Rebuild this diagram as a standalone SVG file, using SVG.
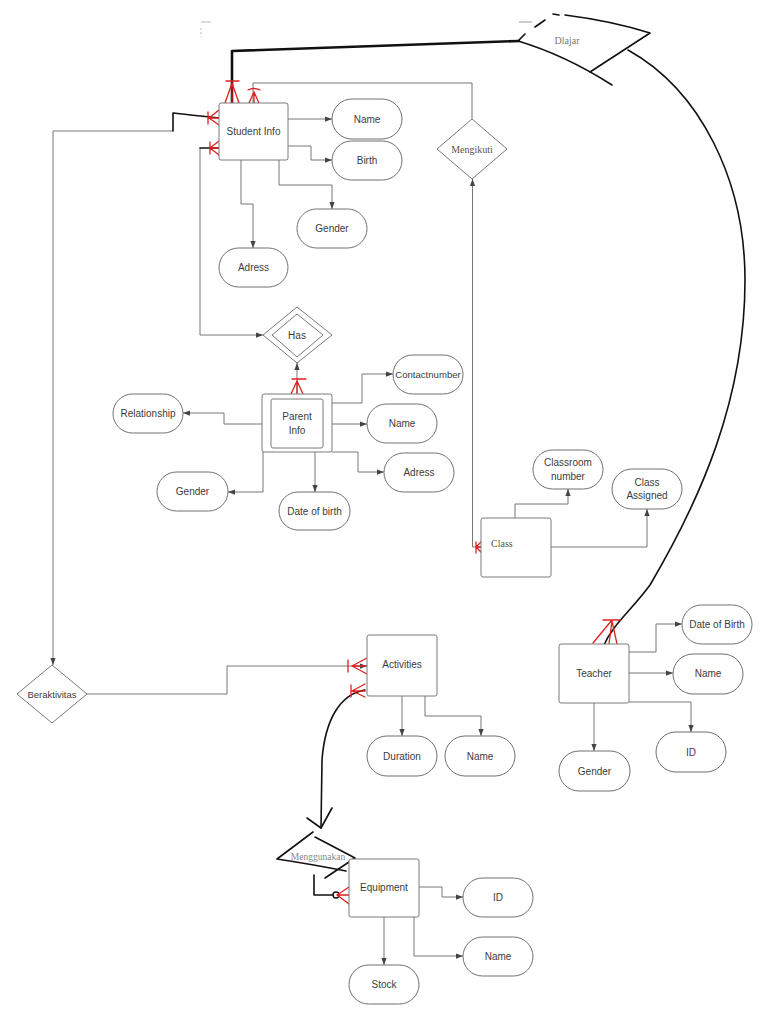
<svg xmlns="http://www.w3.org/2000/svg" width="768" height="1024" viewBox="0 0 768 1024">
<defs>
<marker id="arr" viewBox="0 0 8 6" refX="8" refY="3" markerWidth="7" markerHeight="5.5" orient="auto" markerUnits="userSpaceOnUse"><path d="M0,0 L8,3 L0,6 z" fill="#444"/></marker>
<style>
.box{fill:#fff;stroke:#7a7a7a;stroke-width:1}
.pill{fill:#fff;stroke:#707070;stroke-width:1}
.lbl{font-family:"Liberation Sans",Arial,sans-serif;font-size:10px;fill:#3c3c3c;text-anchor:middle;dominant-baseline:central}
.ser{font-family:"Liberation Serif","Times New Roman",serif;font-size:10px;fill:#555;dominant-baseline:central}
.conn{fill:none;stroke:#777;stroke-width:1}
.arw{marker-end:url(#arr)}
.ink{fill:none;stroke:#111;stroke-width:1.6;stroke-linecap:round;stroke-linejoin:round}
.red{fill:none;stroke:#e02020;stroke-width:1.3;stroke-linecap:round}
</style>
</defs>
<rect width="768" height="1024" fill="#fff"/>

<g id="connectors">
<path class="conn arw" d="M288,119 H332"/>
<path class="conn arw" d="M288,146 H311 V160 H332"/>
<path class="conn arw" d="M279,160 V185 H332 V209"/>
<path class="conn arw" d="M241,160 V204 H253 V248"/>
<path class="conn arw" d="M200,148 V335 H263"/>
<path class="conn" d="M253,103 V83 H472 V119"/>
<path class="conn arw" d="M481,547 H472.5 V179"/>
<path class="conn arw" d="M515,518 V504 H568 V489"/>
<path class="conn arw" d="M551,547 H647 V509"/>
<path class="conn arw" d="M297,394 V363"/>
<path class="conn arw" d="M332,403 H362 V374 H393"/>
<path class="conn arw" d="M332,424 H367"/>
<path class="conn arw" d="M332,452 H358 V472 H384"/>
<path class="conn arw" d="M262,424 H224 V413 H183"/>
<path class="conn arw" d="M263,452 V492 H228"/>
<path class="conn arw" d="M315,448 V492"/>
<path class="conn arw" d="M173,131 H53 V665"/>
<path class="conn arw" d="M87,694 H227 V666 H367"/>
<path class="conn arw" d="M402,696 V736"/>
<path class="conn arw" d="M425,696 V716 H481 V736"/>
<path class="conn arw" d="M629,652 H656 V624 H682"/>
<path class="conn arw" d="M629,673 H673"/>
<path class="conn arw" d="M629,702 H691 V732"/>
<path class="conn arw" d="M594,703 V751"/>
<path class="conn arw" d="M419,887 H442 V897 H463"/>
<path class="conn arw" d="M414,917 V956 H463"/>
<path class="conn arw" d="M384,917 V965"/>

<!-- hand-drawn ink -->
<path class="ink" style="stroke-width:2.6" d="M232,103 V51 L519,41"/>
<path class="ink" d="M173,131 V113 Q190,115 219,118"/>
<path class="ink" d="M200,148 H219"/>
<path class="ink" d="M628,50 C700,90 745,180 745,280 C745,400 700,500 650,585 C630,612 612,625 603,647"/>
<path class="ink" d="M365,690 C340,694 325,720 322,760 L321,828"/>
<path class="ink" d="M307,818 L321,828 L332,808"/>
<path class="ink" d="M314,875 V895 H333"/>
<circle cx="336" cy="895" r="3" fill="none" stroke="#111" stroke-width="1.4"/>

<!-- red crow's feet -->
<path class="red" d="M226,81 H239 M232,83 L225,103 M232,83 V103 M232,83 L239,103"/>
<path class="red" d="M248,90 Q254,87 260,90 M254,92 L249,103 M254,92 V103 M254,92 L259,103"/>
<path class="red" d="M208,112 V124 M209,118 L219,110 M209,118 H219 M209,118 L219,125"/>
<path class="red" d="M210,142 V154 M210,148 L219,141 M210,148 H219 M210,148 L219,155"/>
<path class="red" d="M292,379 H306 M297,381 L291,394 M297,381 V394 M297,381 L303,394"/>
<path class="red" d="M476,542 V553 M476,547 L481,542 M476,547 H481 M476,547 L481,552"/>
<path class="red" d="M348,660 V672 M352,666 L367,658 M352,666 H367 M352,666 L367,674"/>
<path class="red" d="M351,685 V697 M352,691 L365,684 M352,691 H365 M352,691 L365,697"/>
<path class="red" d="M337,895 L349,887 M337,895 L349,895 M337,895 L349,904"/>
<path class="red" d="M603,620 H620 M612,620 L593,643 M612,621 L609,644 M612,621 L617,644"/>
</g>

<path d="M201,22 H211" stroke="#bbb" stroke-width="1"/>
<path d="M201,28 V37" stroke="#bbb" stroke-width="1" stroke-dasharray="2,2"/>

<g id="student-info"><rect class="box" x="219" y="103" width="69" height="57" rx="2"/><text class="lbl" x="253.5" y="131">Student Info</text></g>
<g id="si-name"><rect class="pill" x="332" y="99" width="70" height="40" rx="20"/><text class="lbl" x="367" y="119">Name</text></g>
<g id="si-birth"><rect class="pill" x="332" y="141" width="70" height="39" rx="19.5"/><text class="lbl" x="367" y="160">Birth</text></g>
<g id="si-gender"><rect class="pill" x="297" y="209" width="70" height="39" rx="19.5"/><text class="lbl" x="332" y="228">Gender</text></g>
<g id="si-adress"><rect class="pill" x="219" y="248" width="69" height="39" rx="19.5"/><text class="lbl" x="253.5" y="267">Adress</text></g>

<g id="dlajar">
<path d="M519,22 H532" stroke="#999" stroke-width="1"/>
<path class="ink" d="M535,27 L545,20 M553,14 L559,15 M518,41 L525,34"/>
<path class="ink" d="M565,15 Q612,21 650,33 L590,72"/>
<path class="ink" d="M518,41 Q565,55 612,85"/>
<text class="ser" x="567" y="40" text-anchor="middle" style="fill:#777">Dlajar</text>
</g>

<g id="mengikuti"><polygon class="box" points="472,119 507,149 472,179 437,149"/><text class="ser" x="472" y="149" text-anchor="middle">Mengikuti</text></g>

<g id="has"><polygon class="box" points="297,307 332,335 297,363 263,335"/><polygon class="box" points="297,314 323,335 297,357 272,335"/><text class="lbl" x="297" y="335">Has</text></g>

<g id="parent-info"><rect class="box" x="262" y="394" width="70" height="58" rx="2"/><rect class="box" x="271" y="399" width="52" height="49" rx="2"/><text class="lbl" x="297" y="416">Parent</text><text class="lbl" x="297" y="430">Info</text></g>
<g id="p-contact"><rect class="pill" x="393" y="355" width="70" height="39" rx="19.5"/><text class="lbl" x="428" y="374" style="font-size:9.6px">Contactnumber</text></g>
<g id="p-name"><rect class="pill" x="367" y="404" width="70" height="39" rx="19.5"/><text class="lbl" x="402" y="423">Name</text></g>
<g id="p-adress"><rect class="pill" x="384" y="453" width="70" height="39" rx="19.5"/><text class="lbl" x="419" y="472">Adress</text></g>
<g id="p-relationship"><rect class="pill" x="113" y="394" width="70" height="39" rx="19.5"/><text class="lbl" x="148" y="413">Relationship</text></g>
<g id="p-gender"><rect class="pill" x="157" y="472" width="71" height="39" rx="19.5"/><text class="lbl" x="192.5" y="491">Gender</text></g>
<g id="p-dob"><rect class="pill" x="279" y="492" width="71" height="38" rx="19"/><text class="lbl" x="314.5" y="511">Date of birth</text></g>

<g id="class"><rect class="box" x="481" y="518" width="70" height="59" rx="2"/><text class="ser" x="491" y="543">Class</text></g>
<g id="c-room"><rect class="pill" x="533" y="450" width="70" height="39" rx="19.5"/><text class="lbl" x="568" y="462">Classroom</text><text class="lbl" x="568" y="476">number</text></g>
<g id="c-assigned"><rect class="pill" x="612" y="469" width="70" height="40" rx="20"/><text class="lbl" x="647" y="482">Class</text><text class="lbl" x="647" y="495">Assigned</text></g>

<g id="teacher"><rect class="box" x="559" y="644" width="70" height="59" rx="2"/><text class="lbl" x="594" y="673">Teacher</text></g>
<g id="t-dob"><rect class="pill" x="682" y="605" width="70" height="39" rx="19.5"/><text class="lbl" x="717" y="624">Date of Birth</text></g>
<g id="t-name"><rect class="pill" x="673" y="654" width="70" height="40" rx="20"/><text class="lbl" x="708" y="673">Name</text></g>
<g id="t-id"><rect class="pill" x="656" y="732" width="70" height="40" rx="20"/><text class="lbl" x="691" y="752">ID</text></g>
<g id="t-gender"><rect class="pill" x="559" y="751" width="71" height="40" rx="20"/><text class="lbl" x="594.5" y="771">Gender</text></g>

<g id="beraktivitas"><polygon class="box" points="52,665 87,694 52,723 17,694"/><text class="lbl" x="52" y="694" style="font-size:9.5px">Beraktivitas</text></g>

<g id="activities"><rect class="box" x="367" y="635" width="70" height="61" rx="2"/><text class="lbl" x="402" y="664">Activities</text></g>
<g id="a-duration"><rect class="pill" x="367" y="736" width="70" height="40" rx="20"/><text class="lbl" x="402" y="756">Duration</text></g>
<g id="a-name"><rect class="pill" x="445" y="736" width="70" height="40" rx="20"/><text class="lbl" x="480" y="756">Name</text></g>

<g id="menggunakan">
<path class="ink" d="M313,832 L277,859 Q310,864 346,871 M315,837 L355,858 L325,878"/>
<text class="ser" x="318" y="857" text-anchor="middle" style="font-size:9.5px;fill:#888">Menggunakan</text>
</g>

<g id="equipment"><rect class="box" x="349" y="859" width="70" height="58" rx="2"/><text class="lbl" x="384" y="887">Equipment</text></g>
<g id="e-id"><rect class="pill" x="463" y="878" width="70" height="39" rx="19.5"/><text class="lbl" x="498" y="897">ID</text></g>
<g id="e-name"><rect class="pill" x="463" y="937" width="70" height="39" rx="19.5"/><text class="lbl" x="498" y="956">Name</text></g>
<g id="e-stock"><rect class="pill" x="349" y="965" width="70" height="39" rx="19.5"/><text class="lbl" x="384" y="984">Stock</text></g>
</svg>
